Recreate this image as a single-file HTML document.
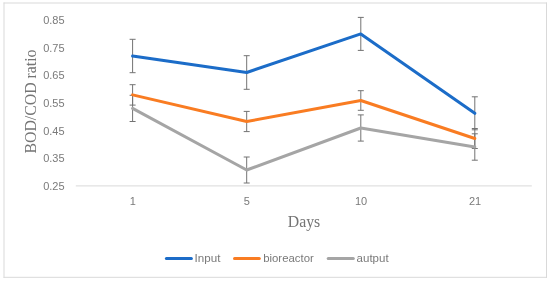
<!DOCTYPE html>
<html lang="en">
<head>
<meta charset="utf-8">
<title>BOD/COD ratio chart</title>
<style>
html,body{margin:0;padding:0;background:#fff;}
body{width:550px;height:281px;overflow:hidden;position:relative;}
svg{display:block;position:absolute;left:0;top:0;}
.sans{font-family:"Liberation Sans",Arial,sans-serif;font-size:11px;fill:#7a7a7a;}
.serif{font-family:"Liberation Serif","Times New Roman",serif;font-size:15.8px;fill:#747474;}
</style>
</head>
<body>
<svg width="550" height="281" viewBox="0 0 550 281">
<defs><filter id="soft" x="0" y="0" width="550" height="281" filterUnits="userSpaceOnUse"><feGaussianBlur stdDeviation="0.35"/></filter></defs>
<rect x="0" y="0" width="550" height="281" fill="#ffffff"/>
<g filter="url(#soft)">
<g stroke="#d9d9d9" stroke-width="1" fill="none">
<line x1="4" y1="2.5" x2="4" y2="277.8"/>
<line x1="3.5" y1="3" x2="547" y2="3"/>
<line x1="546.5" y1="2.5" x2="546.5" y2="277.8"/>
<line x1="3.5" y1="277.3" x2="547" y2="277.3"/>
<line x1="75.8" y1="185.9" x2="531.8" y2="185.9"/>
</g>
<g stroke="#737373" stroke-width="1" fill="none">
<path d="M132.6 39.3V72.7M129.6 39.3H135.6M129.6 72.7H135.6"/>
<path d="M246.7 55.7V89.3M243.7 55.7H249.7M243.7 89.3H249.7"/>
<path d="M360.8 17.4V50.4M357.8 17.4H363.8M357.8 50.4H363.8"/>
<path d="M474.8 96.8V129.8M471.8 96.8H477.8M471.8 129.8H477.8"/>
<path d="M132.6 84.7V105.1M129.6 84.7H135.6M129.6 105.1H135.6"/>
<path d="M246.7 111.4V131.6M243.7 111.4H249.7M243.7 131.6H249.7"/>
<path d="M360.8 90.7V110.3M357.8 90.7H363.8M357.8 110.3H363.8"/>
<path d="M474.8 128.5V148.5M471.8 128.5H477.8M471.8 148.5H477.8"/>
<path d="M132.6 95.3V121.5M129.6 95.3H135.6M129.6 121.5H135.6"/>
<path d="M246.7 157.0V183.0M243.7 157.0H249.7M243.7 183.0H249.7"/>
<path d="M360.8 114.9V141.1M357.8 114.9H363.8M357.8 141.1H363.8"/>
<path d="M474.8 133.8V160.2M471.8 133.8H477.8M471.8 160.2H477.8"/>
</g>
<polyline points="132.6,56.0 246.7,72.5 360.8,33.9 474.8,113.3" fill="none" stroke="#1a6cc8" stroke-width="3" stroke-linejoin="round" stroke-linecap="round"/>
<polyline points="132.6,94.9 246.7,121.5 360.8,100.5 474.8,138.5" fill="none" stroke="#f97c22" stroke-width="3" stroke-linejoin="round" stroke-linecap="round"/>
<polyline points="132.6,108.4 246.7,170.0 360.8,128.0 474.8,147.0" fill="none" stroke="#a5a5a5" stroke-width="3" stroke-linejoin="round" stroke-linecap="round"/>
<text class="sans" x="64.6" y="23.9" text-anchor="end">0.85</text>
<text class="sans" x="64.6" y="51.5" text-anchor="end">0.75</text>
<text class="sans" x="64.6" y="79.2" text-anchor="end">0.65</text>
<text class="sans" x="64.6" y="106.9" text-anchor="end">0.55</text>
<text class="sans" x="64.6" y="134.5" text-anchor="end">0.45</text>
<text class="sans" x="64.6" y="162.2" text-anchor="end">0.35</text>
<text class="sans" x="64.6" y="189.9" text-anchor="end">0.25</text>
<text class="sans" x="132.8" y="205.1" text-anchor="middle">1</text>
<text class="sans" x="246.9" y="205.1" text-anchor="middle">5</text>
<text class="sans" x="361.0" y="205.1" text-anchor="middle">10</text>
<text class="sans" x="475.0" y="205.1" text-anchor="middle">21</text>
<text class="serif" x="304" y="227.3" text-anchor="middle">Days</text>
<text class="serif" transform="translate(35.9,101.5) rotate(-90)" text-anchor="middle">BOD/COD ratio</text>
<line x1="166.4" y1="258.5" x2="191.4" y2="258.5" stroke="#1a6cc8" stroke-width="3" stroke-linecap="round"/>
<text class="sans" x="194.6" y="262.2" textLength="25.8" lengthAdjust="spacingAndGlyphs">Input</text>
<line x1="234.5" y1="258.5" x2="259.3" y2="258.5" stroke="#f97c22" stroke-width="3" stroke-linecap="round"/>
<text class="sans" x="263.2" y="262.2" textLength="50.6" lengthAdjust="spacingAndGlyphs">bioreactor</text>
<line x1="328.2" y1="258.5" x2="353.3" y2="258.5" stroke="#a5a5a5" stroke-width="3" stroke-linecap="round"/>
<text class="sans" x="356.6" y="262.2" textLength="32.0" lengthAdjust="spacingAndGlyphs">autput</text>
</g>
</svg>
</body>
</html>
